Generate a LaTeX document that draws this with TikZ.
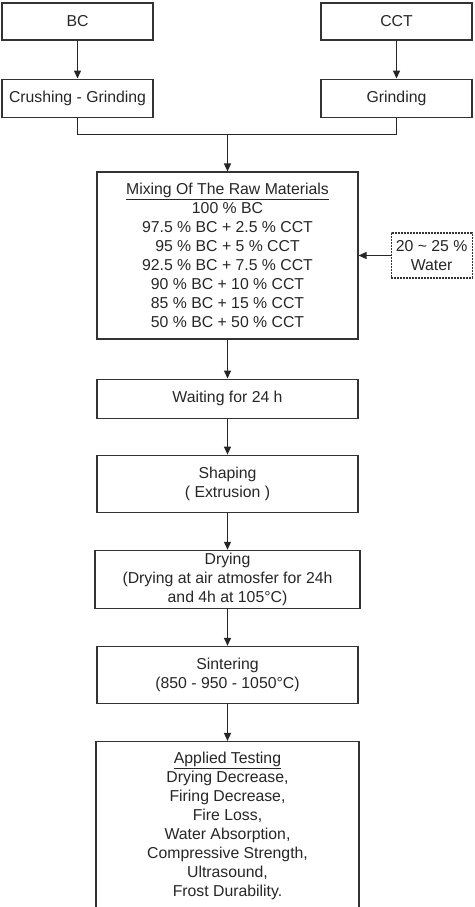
\documentclass[tikz,border=0pt]{standalone}
\usepackage{fontspec}
\setmainfont{Liberation Sans}
\usetikzlibrary{positioning,calc}
\usetikzlibrary{arrows.meta}
\tikzset{
  procbox/.style={draw=black!80, line width=1.1pt, align=center, inner sep=2pt,
    text=black!85, font=\fontsize{15.8}{19}\selectfont},
  waterbox/.style={procbox, dashed, dash pattern=on 2pt off 1pt},
  flowline/.style={draw=black!85, line width=1.3pt},
  flowarrow/.style={flowline, -{Triangle[length=8pt,width=7pt]}},
}

\begin{document}
\begin{tikzpicture}
   \useasboundingbox (0,0) rectangle (474pt,-907pt);

   % raw materials
   \node[procbox, minimum width=151pt, minimum height=37pt] at (77.5pt,-21.5pt)  (bc)  {BC};
   \node[procbox, minimum width=151pt, minimum height=37pt] at (396.5pt,-21.5pt) (cct) {CCT};

   \node[procbox, minimum width=151pt, minimum height=38pt, below=38pt of bc]  (crush) {Crushing - Grinding};
   \node[procbox, minimum width=151pt, minimum height=38pt, below=38pt of cct] (grind) {Grinding};

   % mixing
   \node[procbox, minimum width=261pt, minimum height=167pt] at (227.5pt,-255.5pt) (mix)
      {\underline{Mixing Of The Raw Materials}\\
       100 \% BC\\
       97.5 \% BC + 2.5 \% CCT\\
       95 \% BC + 5 \% CCT\\
       92.5 \% BC + 7.5 \% CCT\\
       90 \% BC + 10 \% CCT\\
       85 \% BC + 15 \% CCT\\
       50 \% BC + 50 \% CCT};
   \coordinate[above=37pt of mix.north] (join);

   \node[waterbox, minimum width=81pt, minimum height=45pt, right=32pt of mix] (water)
      {20 \textasciitilde{} 25 \%\\Water};

   % process steps
   \node[procbox, minimum width=261pt, minimum height=39pt, below=39pt of mix]  (wait)  {Waiting for 24 h};
   \node[procbox, minimum width=261pt, minimum height=57pt, below=36pt of wait] (shape) {Shaping\\( Extrusion )};
   \node[procbox, minimum width=265pt, minimum height=58pt, below=37pt of shape] (dry)
      {Drying\\(Drying at air atmosfer for 24h\\and 4h at 105°C)};
   \node[procbox, minimum width=261pt, minimum height=57pt, below=37pt of dry] (sinter) {Sintering\\(850 - 950 - 1050°C)};

   % testing
   \node[procbox, minimum width=263pt, minimum height=169pt, below=37pt of sinter] (test)
      {\underline{Applied Testing}\\
       Drying Decrease,\\
       Firing Decrease,\\
       Fire Loss,\\
       Water Absorption,\\
       Compressive Strength,\\
       Ultrasound,\\
       Frost Durability.};

   \draw[flowarrow] (bc)  -- (crush);
   \draw[flowarrow] (cct) -- (grind);
   \draw[flowline] (crush.south) |- (join);
   \draw[flowline] (grind.south) |- (join);
   \draw[flowarrow] (join) -- (mix.north);
   \draw[flowarrow] (water) -- (mix);
   \draw[flowarrow] (mix)    -- (wait);
   \draw[flowarrow] (wait)   -- (shape);
   \draw[flowarrow] (shape)  -- (dry);
   \draw[flowarrow] (dry)    -- (sinter);
   \draw[flowarrow] (sinter) -- (test);
\end{tikzpicture}
\end{document}
